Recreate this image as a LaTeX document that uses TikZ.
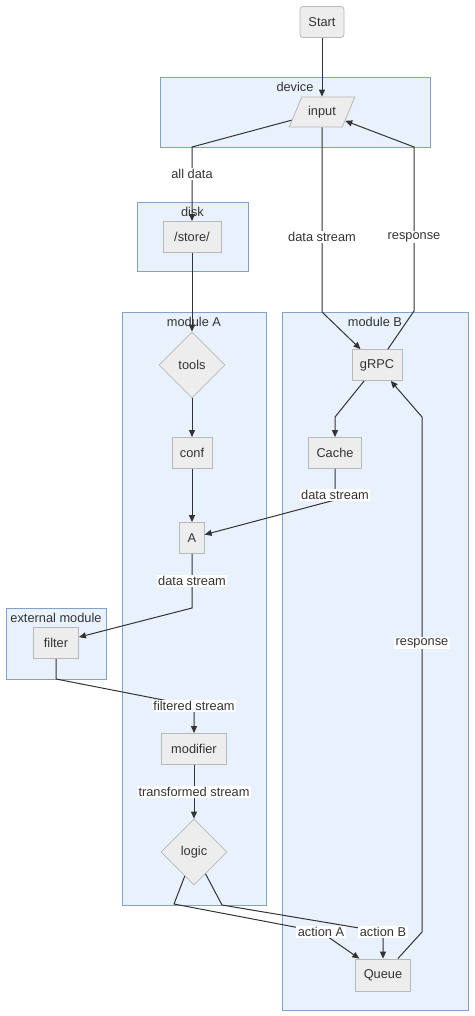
\documentclass[tikz,border=0pt]{standalone}
\usepackage{fontspec}
\setmainfont{Liberation Sans}
\usetikzlibrary{arrows.meta,shapes.geometric}
\definecolor{clusterfill}{HTML}{E8F1FC}
\definecolor{clusterline}{HTML}{7FA3CC}
\definecolor{boxfill}{HTML}{EDEDED}
\definecolor{boxline}{HTML}{B8B8B8}
\definecolor{ink}{HTML}{333333}
\begin{document}
\begin{tikzpicture}[x=1pt, y=-1pt,
        font=\fontsize{12.8}{15}\selectfont, text=ink,
        box/.style={draw=boxline, fill=boxfill, line width=0.8pt, minimum height=31pt, inner xsep=8pt},
        choice/.style={diamond, draw=boxline, fill=boxfill, line width=0.8pt, minimum width=66pt, minimum height=66pt, inner sep=1pt},
        edge/.style={draw=ink, line width=1pt, -{Triangle[length=7pt,width=6pt]}},
        lbl/.style={fill=white, inner sep=1.5pt}]
        \useasboundingbox (0,0) rectangle (474,1016);
        % subgraphs
        \foreach \xa/\ya/\xb/\yb/\t[count=\i] in {160/77/430/147/device, 137/202/248/271/disk, 122/312/266/905/module A, 282/312/468/1010/module B, 6/608/106/679/external module} {
            \draw[draw=clusterline, fill=clusterfill, line width=0.8pt] (\xa,\ya) rectangle (\xb,\yb);
            \node[anchor=north, inner sep=2pt] (sub\i) at ({(\xa+\xb)/2}, \ya+3.5) {\t};
        }
        % nodes
        \node[box, rounded corners=3pt, minimum width=44pt] (start) at (322,22) {Start};
        \node[trapezium, trapezium left angle=60, trapezium right angle=120, trapezium stretches=true,
            draw=boxline, fill=boxfill, line width=0.8pt, minimum width=66pt, minimum height=30pt] (input) at (322,112) {input};
        \node[box, minimum width=58pt] (store) at (192,237) {/store/};
        \node[choice] (tools) at (192,365) {tools};
        \node[box, minimum width=40pt] (conf) at (192,453) {conf};
        \node[box, minimum width=24pt] (a) at (192,538) {A};
        \node[box, minimum width=45pt] (grpc) at (377,365) {gRPC};
        \node[box, minimum width=51pt] (cache) at (335,453) {Cache};
        \node[box, minimum width=45pt] (filter) at (56,643) {filter};
        \node[box, minimum width=65pt] (modifier) at (194,749) {modifier};
        \node[choice] (logic) at (194,852) {logic};
        \node[box, minimum width=52pt, minimum height=32pt] (queue) at (383,975) {Queue};
        % connectors
        \draw[edge] (start) -- (input);
        \draw[edge] (input) -- (192,147) -- (store) node[lbl] at (192,174) {all data};
        \draw[edge] (input) -- (322,312) -- (grpc) node[lbl] at (322,237) {data stream};
        \draw[edge] (grpc) -- (414,311) -- (414,147) -- (input) node[lbl] at (414,237) {response};
        \draw[edge] (store) -- (tools);
        \draw[edge] (tools) -- (conf);
        \draw[edge] (conf) -- (a);
        \draw[edge] (grpc) -- (335,417) -- (cache);
        \draw[edge] (cache) -- (335,500) -- (a) node[lbl] at (335,495) {data stream};
        \draw[edge] (a) -- (192,608) -- (filter) node[lbl] at (192,581) {data stream};
        \draw[edge] (filter) -- (56,679) -- (194,706) -- (modifier) node[lbl] at (194,706) {filtered stream};
        \draw[edge] (modifier) -- node[lbl] {transformed stream} (logic);
        \draw[edge] (logic) -- (174,904) -- (321,932) -- (queue) node[lbl] at (321,932) {action A};
        \draw[edge] (logic) -- (222,905) -- (383,932) -- (queue) node[lbl] at (383,932) {action B};
        \draw[edge] (queue) -- (422,932) -- (422,417) -- (grpc) node[lbl] at (422,643) {response};
    \end{tikzpicture}
\end{document}
